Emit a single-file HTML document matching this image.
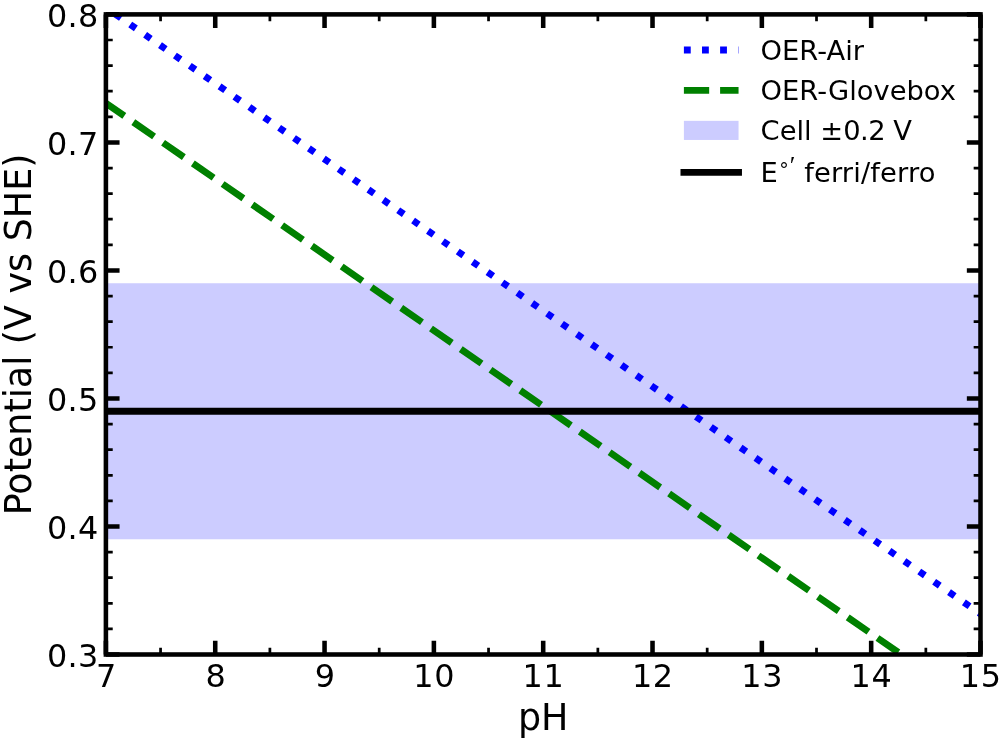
<!DOCTYPE html>
<html lang="en"><head><meta charset="utf-8"><title>Pourbaix OER window</title>
<style>html,body{margin:0;padding:0;background:#fff;}body{width:1000px;height:740px;overflow:hidden;}svg{display:block;}text{font-family:'DejaVu Sans','Liberation Sans',sans-serif;fill:#000;}</style></head><body>
<svg width="1000" height="740" viewBox="0 0 1000 740">
<rect x="0" y="0" width="1000" height="740" fill="#ffffff"/>
<defs><clipPath id="ax"><rect x="105.90" y="14.40" width="874.60" height="640.10"/></clipPath></defs>
<g clip-path="url(#ax)">
<rect x="105.90" y="283.24" width="874.60" height="256.04" fill="#0000ff" fill-opacity="0.2"/>
<line x1="-3.42" y1="-68.17" x2="1089.83" y2="689.71" stroke="#0000ff" stroke-width="6.830" stroke-dasharray="6.8356 11.2787" stroke-dashoffset="0.40"/>
<line x1="-3.42" y1="27.33" x2="1089.83" y2="785.21" stroke="#008000" stroke-width="6.830" stroke-dasharray="25.2865 10.9347" stroke-dashoffset="14.75"/>
<line x1="95.90" y1="411.26" x2="990.50" y2="411.26" stroke="#000" stroke-width="6.830"/>
</g>
<g><path d="M105.90 654.50V640.84M105.90 14.40V28.06" stroke="#000" stroke-width="4.553" fill="none"/><path d="M160.56 654.50V647.67M160.56 14.40V21.23" stroke="#000" stroke-width="2.732" fill="none"/><path d="M215.23 654.50V640.84M215.23 14.40V28.06" stroke="#000" stroke-width="4.553" fill="none"/><path d="M269.89 654.50V647.67M269.89 14.40V21.23" stroke="#000" stroke-width="2.732" fill="none"/><path d="M324.55 654.50V640.84M324.55 14.40V28.06" stroke="#000" stroke-width="4.553" fill="none"/><path d="M379.21 654.50V647.67M379.21 14.40V21.23" stroke="#000" stroke-width="2.732" fill="none"/><path d="M433.88 654.50V640.84M433.88 14.40V28.06" stroke="#000" stroke-width="4.553" fill="none"/><path d="M488.54 654.50V647.67M488.54 14.40V21.23" stroke="#000" stroke-width="2.732" fill="none"/><path d="M543.20 654.50V640.84M543.20 14.40V28.06" stroke="#000" stroke-width="4.553" fill="none"/><path d="M597.86 654.50V647.67M597.86 14.40V21.23" stroke="#000" stroke-width="2.732" fill="none"/><path d="M652.52 654.50V640.84M652.52 14.40V28.06" stroke="#000" stroke-width="4.553" fill="none"/><path d="M707.19 654.50V647.67M707.19 14.40V21.23" stroke="#000" stroke-width="2.732" fill="none"/><path d="M761.85 654.50V640.84M761.85 14.40V28.06" stroke="#000" stroke-width="4.553" fill="none"/><path d="M816.51 654.50V647.67M816.51 14.40V21.23" stroke="#000" stroke-width="2.732" fill="none"/><path d="M871.17 654.50V640.84M871.17 14.40V28.06" stroke="#000" stroke-width="4.553" fill="none"/><path d="M925.84 654.50V647.67M925.84 14.40V21.23" stroke="#000" stroke-width="2.732" fill="none"/><path d="M980.50 654.50V640.84M980.50 14.40V28.06" stroke="#000" stroke-width="4.553" fill="none"/><path d="M105.90 654.50H119.56M980.50 654.50H966.84" stroke="#000" stroke-width="4.553" fill="none"/><path d="M105.90 628.90H112.73M980.50 628.90H973.67" stroke="#000" stroke-width="2.732" fill="none"/><path d="M105.90 603.29H112.73M980.50 603.29H973.67" stroke="#000" stroke-width="2.732" fill="none"/><path d="M105.90 577.69H112.73M980.50 577.69H973.67" stroke="#000" stroke-width="2.732" fill="none"/><path d="M105.90 552.08H112.73M980.50 552.08H973.67" stroke="#000" stroke-width="2.732" fill="none"/><path d="M105.90 526.48H119.56M980.50 526.48H966.84" stroke="#000" stroke-width="4.553" fill="none"/><path d="M105.90 500.88H112.73M980.50 500.88H973.67" stroke="#000" stroke-width="2.732" fill="none"/><path d="M105.90 475.27H112.73M980.50 475.27H973.67" stroke="#000" stroke-width="2.732" fill="none"/><path d="M105.90 449.67H112.73M980.50 449.67H973.67" stroke="#000" stroke-width="2.732" fill="none"/><path d="M105.90 424.06H112.73M980.50 424.06H973.67" stroke="#000" stroke-width="2.732" fill="none"/><path d="M105.90 398.46H119.56M980.50 398.46H966.84" stroke="#000" stroke-width="4.553" fill="none"/><path d="M105.90 372.86H112.73M980.50 372.86H973.67" stroke="#000" stroke-width="2.732" fill="none"/><path d="M105.90 347.25H112.73M980.50 347.25H973.67" stroke="#000" stroke-width="2.732" fill="none"/><path d="M105.90 321.65H112.73M980.50 321.65H973.67" stroke="#000" stroke-width="2.732" fill="none"/><path d="M105.90 296.04H112.73M980.50 296.04H973.67" stroke="#000" stroke-width="2.732" fill="none"/><path d="M105.90 270.44H119.56M980.50 270.44H966.84" stroke="#000" stroke-width="4.553" fill="none"/><path d="M105.90 244.84H112.73M980.50 244.84H973.67" stroke="#000" stroke-width="2.732" fill="none"/><path d="M105.90 219.23H112.73M980.50 219.23H973.67" stroke="#000" stroke-width="2.732" fill="none"/><path d="M105.90 193.63H112.73M980.50 193.63H973.67" stroke="#000" stroke-width="2.732" fill="none"/><path d="M105.90 168.02H112.73M980.50 168.02H973.67" stroke="#000" stroke-width="2.732" fill="none"/><path d="M105.90 142.42H119.56M980.50 142.42H966.84" stroke="#000" stroke-width="4.553" fill="none"/><path d="M105.90 116.82H112.73M980.50 116.82H973.67" stroke="#000" stroke-width="2.732" fill="none"/><path d="M105.90 91.21H112.73M980.50 91.21H973.67" stroke="#000" stroke-width="2.732" fill="none"/><path d="M105.90 65.61H112.73M980.50 65.61H973.67" stroke="#000" stroke-width="2.732" fill="none"/><path d="M105.90 40.00H112.73M980.50 40.00H973.67" stroke="#000" stroke-width="2.732" fill="none"/><path d="M105.90 14.40H119.56M980.50 14.40H966.84" stroke="#000" stroke-width="4.553" fill="none"/></g>
<rect x="105.90" y="14.40" width="874.60" height="640.10" fill="none" stroke="#000" stroke-width="4.553" stroke-linejoin="miter"/>
<text x="106.20" y="687.00" font-size="31.87" text-anchor="middle">7</text>
<text x="215.53" y="687.00" font-size="31.87" text-anchor="middle">8</text>
<text x="324.85" y="687.00" font-size="31.87" text-anchor="middle">9</text>
<text x="434.23" y="687.00" font-size="31.87" text-anchor="middle" letter-spacing="0.7">10</text>
<text x="543.55" y="687.00" font-size="31.87" text-anchor="middle" letter-spacing="0.7">11</text>
<text x="652.88" y="687.00" font-size="31.87" text-anchor="middle" letter-spacing="0.7">12</text>
<text x="762.20" y="687.00" font-size="31.87" text-anchor="middle" letter-spacing="0.7">13</text>
<text x="871.52" y="687.00" font-size="31.87" text-anchor="middle" letter-spacing="0.7">14</text>
<text x="980.85" y="687.00" font-size="31.87" text-anchor="middle" letter-spacing="0.7">15</text>
<text x="98.60" y="666.80" font-size="31.87" text-anchor="end" letter-spacing="0.3">0.3</text>
<text x="98.60" y="538.78" font-size="31.87" text-anchor="end" letter-spacing="0.3">0.4</text>
<text x="98.60" y="410.76" font-size="31.87" text-anchor="end" letter-spacing="0.3">0.5</text>
<text x="98.60" y="282.74" font-size="31.87" text-anchor="end" letter-spacing="0.3">0.6</text>
<text x="98.60" y="154.72" font-size="31.87" text-anchor="end" letter-spacing="0.3">0.7</text>
<text x="98.60" y="26.70" font-size="31.87" text-anchor="end" letter-spacing="0.3">0.8</text>
<text x="543.20" y="730.30" font-size="36.43" text-anchor="middle">pH</text>
<text transform="translate(30.80 334.45) rotate(-90)" font-size="36.43" text-anchor="middle">Potential (V vs SHE)</text>
<line x1="683.90" y1="50.00" x2="738.55" y2="50.00" stroke="#0000ff" stroke-width="6.830" stroke-dasharray="6.830 11.270"/>
<line x1="683.90" y1="90.30" x2="738.55" y2="90.30" stroke="#008000" stroke-width="6.830" stroke-dasharray="25.271 10.928"/>
<rect x="683.90" y="120.84" width="54.65" height="19.12" fill="#0000ff" fill-opacity="0.2"/>
<line x1="683.90" y1="172.30" x2="738.55" y2="172.30" stroke="#000" stroke-width="6.830" stroke-linecap="square"/>
<text x="760.60" y="59.60" font-size="27.32">OER-Air</text>
<text x="760.60" y="99.90" font-size="27.32">OER-Glovebox</text>
<text x="760.60" y="140.00" font-size="27.32">Cell ±0<tspan dx="-0.5">.</tspan><tspan dx="-0.5">2</tspan><tspan dx="-1"> V</tspan></text>
<text font-size="27.32"><tspan x="760.4" y="181.90">E</tspan><tspan x="778.0" y="171.30" font-size="19.12">∘</tspan><tspan x="789.74" y="173.5" font-size="25.5" font-family="'Liberation Serif',serif">′</tspan><tspan x="795.4" y="181.90" letter-spacing="0.15"> ferri/ferro</tspan></text>
</svg></body></html>
